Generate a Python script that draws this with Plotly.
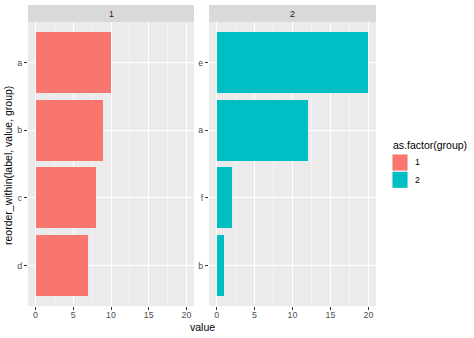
import plotly.graph_objects as go

# Data
labels_1 = ["a", "b", "c", "d"]
values_1 = [10, 9, 8, 7]
labels_2 = ["e", "a", "f", "b"]
values_2 = [20, 12, 2, 1]
groups = ["1", "2"]
colors = ["#F8766D", "#00BFC4"]
x_ticks = [0, 5, 10, 15, 20]

W, H = 474, 338
def px(x): return x / W
def py(y): return (H - y) / H

panels = [(28, 194), (209, 376)]
top, bottom = 22, 306
strip_top = 5

fig = go.Figure()
for i, (labs, vals) in enumerate([(labels_1, values_1), (labels_2, values_2)]):
    fig.add_trace(go.Bar(
        x=vals, y=labs, orientation="h", width=0.9,
        marker=dict(color=colors[i], line=dict(width=0)),
        xaxis="x" if i == 0 else "x2", yaxis="y" if i == 0 else "y2",
        showlegend=False, hoverinfo="x+y"))

font = "Liberation Sans, Arial, sans-serif"
TICK = 8.8
TITLE = 10.5
common_x = dict(range=[-1, 21], tickvals=x_ticks, ticktext=[str(t) for t in x_ticks],
                showgrid=True, gridcolor="white", gridwidth=1.1, zeroline=False,
                ticks="outside", ticklen=3, tickcolor="#333333", tickwidth=1,
                ticklabelstandoff=-3,
                tickfont=dict(family=font, size=TICK, color="#4D4D4D"),
                minor=dict(tickvals=[2.5, 7.5, 12.5, 17.5], showgrid=True, gridcolor="#F5F5F5", gridwidth=0.6, ticks=""),
                showline=False, fixedrange=True)
common_y = dict(type="category", showgrid=True, gridcolor="white", gridwidth=1.1,
                zeroline=False, ticks="outside", ticklen=3, tickcolor="#333333", tickwidth=1,
                tickfont=dict(family=font, size=TICK, color="#4D4D4D"), showline=False,
                domain=[py(bottom), py(top)], range=[3.6, -0.6], fixedrange=True)

fig.update_layout(
    width=W, height=H, margin=dict(l=0, r=0, t=0, b=0),
    paper_bgcolor="white", plot_bgcolor="#EBEBEB",
    xaxis=dict(common_x, domain=[px(panels[0][0]), px(panels[0][1])], anchor="y"),
    xaxis2=dict(common_x, domain=[px(panels[1][0]), px(panels[1][1])], anchor="y2"),
    yaxis=dict(common_y, categoryorder="array", categoryarray=labels_1, anchor="x"),
    yaxis2=dict(common_y, categoryorder="array", categoryarray=labels_2, anchor="x2"),
    bargap=0, showlegend=False,
)

shapes = []
annotations = []
for i, (l, r) in enumerate(panels):
    shapes.append(dict(type="rect", xref="paper", yref="paper",
                       x0=px(l), x1=px(r), y0=py(top), y1=py(strip_top),
                       fillcolor="#D9D9D9", line=dict(width=0), layer="below"))
    annotations.append(dict(text=groups[i], xref="paper", yref="paper",
                            x=px((l + r) / 2), y=py((top + strip_top) / 2),
                            showarrow=False, xanchor="center", yanchor="middle",
                            font=dict(family=font, size=TICK, color="#1A1A1A")))

# axis titles
annotations.append(dict(text="value", xref="paper", yref="paper",
                        x=px((panels[0][0] + panels[1][1]) / 2), y=py(327),
                        showarrow=False, xanchor="center", yanchor="middle",
                        font=dict(family=font, size=TITLE, color="black")))
annotations.append(dict(text="reorder_within(label, value, group)", xref="paper", yref="paper",
                        x=px(8), y=py(166), textangle=-90,
                        showarrow=False, xanchor="center", yanchor="middle",
                        font=dict(family=font, size=TITLE, color="black")))

# legend
annotations.append(dict(text="as.factor(group)", xref="paper", yref="paper",
                        x=px(391), y=py(145), showarrow=False, xanchor="left", yanchor="middle",
                        font=dict(family=font, size=TITLE, color="black")))
for k, g in enumerate(groups):
    y0 = 154 + k * 17.3
    shapes.append(dict(type="rect", xref="paper", yref="paper",
                       x0=px(392), x1=px(408), y0=py(y0 + 17), y1=py(y0),
                       fillcolor="#F2F2F2", line=dict(width=0)))
    shapes.append(dict(type="rect", xref="paper", yref="paper",
                       x0=px(392.5), x1=px(407.5), y0=py(y0 + 16.5), y1=py(y0 + 0.5),
                       fillcolor=colors[k], line=dict(width=0)))
    annotations.append(dict(text=g, xref="paper", yref="paper",
                            x=px(413), y=py(y0 + 8.5), showarrow=False,
                            xanchor="left", yanchor="middle",
                            font=dict(family=font, size=TICK, color="black")))

fig.update_layout(shapes=shapes, annotations=annotations)
fig.write_html("out.html")
